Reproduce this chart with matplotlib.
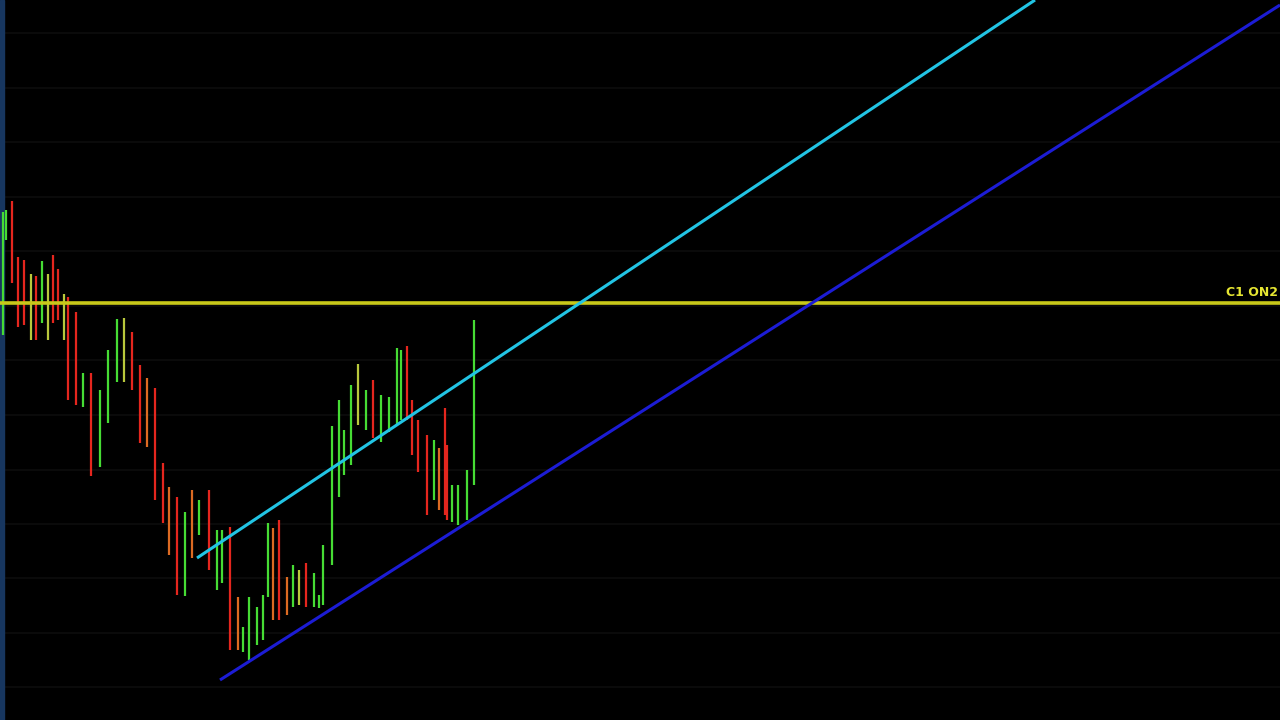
import matplotlib
matplotlib.use("Agg")
import matplotlib.pyplot as plt

# ---- data (time index units, price units) ----
bar_time = [3, 6, 12, 18, 24, 31, 36, 42, 48, 53, 58, 64, 68, 76, 83, 91, 100, 108,
            117, 124, 132, 140, 147, 155, 163, 169, 177, 185, 192, 199, 209, 217,
            222, 230, 238, 243, 249, 257, 263, 268, 273, 279, 287, 293, 299, 306,
            314, 319, 323, 332, 339, 344, 351, 358, 366, 373, 381, 389, 397, 401,
            407, 412, 418, 427, 434, 439, 445, 447, 452, 458, 467, 474]
bar_high = [508, 510, 519, 463, 460, 446, 444, 459, 446, 465, 451, 426, 423, 408,
            347, 347, 330, 370, 401, 402, 388, 355, 342, 332, 257, 233, 223, 208,
            230, 220, 230, 190, 190, 193, 123, 93, 123, 113, 125, 197, 192, 200,
            143, 155, 150, 157, 147, 125, 175, 294, 320, 290, 335, 356, 330, 340,
            325, 323, 372, 370, 374, 320, 300, 285, 280, 272, 312, 275, 235, 235,
            250, 400]
bar_low = [385, 480, 437, 393, 395, 380, 380, 397, 380, 397, 400, 380, 320, 315,
           313, 244, 253, 297, 338, 338, 330, 277, 273, 220, 197, 165, 125, 124,
           162, 185, 150, 130, 137, 70, 70, 68, 60, 75, 80, 123, 100, 100, 105,
           113, 115, 113, 113, 112, 115, 155, 223, 245, 255, 295, 290, 282, 278,
           288, 295, 300, 300, 265, 248, 205, 220, 210, 205, 200, 198, 195, 200,
           235]
bar_kind = ['g', 'g', 'r', 'r', 'r', 'y', 'r', 'g', 'y', 'r', 'r', 'y', 'r', 'r',
            'g', 'r', 'g', 'g', 'g', 'y', 'r', 'r', 'o', 'r', 'r', 'o', 'r', 'g',
            'o', 'g', 'r', 'g', 'g', 'r', 'o', 'g', 'g', 'g', 'g', 'g', 'o', 'r',
            'o', 'g', 'y', 'r', 'g', 'g', 'g', 'g', 'g', 'g', 'g', 'y', 'g', 'r',
            'g', 'g', 'g', 'g', 'r', 'r', 'r', 'r', 'g', 'o', 'r', 'r', 'g', 'g',
            'g', 'g']

level_price = 417
level_label = "C1 ON2"
upper_line = [(197, 162), (1035, 720)]
lower_line = [(220, 40), (1280, 715)]
grid_prices = [687, 632, 578, 523, 469, 414, 360, 305, 250, 196, 142, 87, 33]

palette = {'r': '#e5261e', 'g': '#46dc34', 'o': '#dc6a22', 'y': '#b8c83c'}

fig = plt.figure(figsize=(12.8, 7.2), dpi=100, facecolor='black')
ax = fig.add_axes([0, 0, 1, 1])
ax.set_facecolor('black')
ax.set_xlim(0, 1280)
ax.set_ylim(0, 720)
ax.axis('off')

for gp in grid_prices:
    ax.axhline(gp, color='#0d0d0d', lw=1.2, zorder=1)

# left edge strip
ax.axvspan(0, 4, color='#17365f', zorder=2)

ax.vlines(bar_time, bar_low, bar_high, colors=[palette[k] for k in bar_kind],
          lw=1.6, zorder=3)

ax.axhline(level_price, color='#c8c81a', lw=2.6, zorder=4)
ax.plot([p[0] for p in upper_line], [p[1] for p in upper_line],
        color='#22c4e4', lw=2.2, zorder=5, solid_capstyle='butt')
ax.plot([p[0] for p in lower_line], [p[1] for p in lower_line],
        color='#1c1cd4', lw=2.2, zorder=5, solid_capstyle='butt')

ax.text(1278, level_price + 4, level_label, color='#e6e632', fontsize=9,
        fontweight='bold', ha='right', va='bottom', zorder=6)

fig.savefig('out.png', dpi=100, facecolor='black')
